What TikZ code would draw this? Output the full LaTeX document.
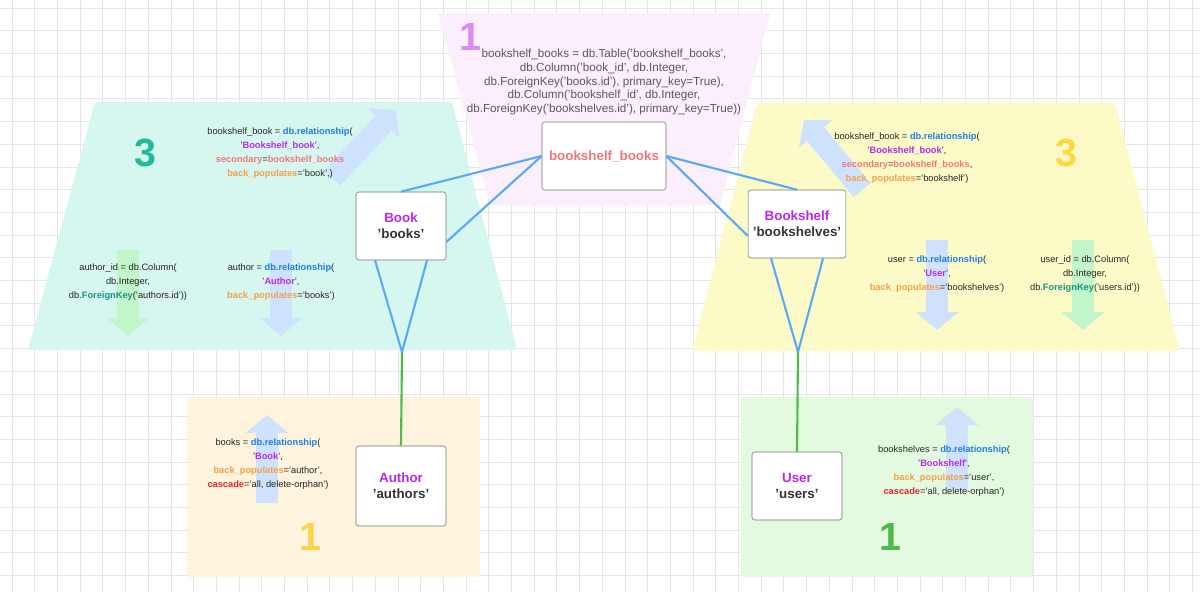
\documentclass[tikz,border=0pt]{standalone}
\usepackage{fontspec}
\setmainfont{Liberation Sans}
\usetikzlibrary{arrows.meta}
\definecolor{kwblue}{HTML}{1E7FE6}
\definecolor{clspurple}{HTML}{B928F0}
\definecolor{secsalmon}{HTML}{F2777A}
\definecolor{bporange}{HTML}{F5A04A}
\definecolor{casred}{HTML}{E8282B}
\definecolor{fkgreen}{HTML}{14967F}
\definecolor{linkblue}{HTML}{5AA9F8}
\definecolor{linkgreen}{HTML}{4CBB4A}
\definecolor{arrblue}{HTML}{CFE2FD}
\definecolor{arrgreen}{HTML}{C2F5C9}
\newcommand{\kw}[1]{\textcolor{kwblue}{\textbf{#1}}}
\newcommand{\cls}[1]{\textcolor{clspurple}{\textbf{#1}}}
\newcommand{\secw}[1]{\textcolor{secsalmon}{\textbf{#1}}}
\newcommand{\bp}{\textcolor{bporange}{\textbf{back\_populates}}}
\newcommand{\cas}{\textcolor{casred}{\textbf{cascade}}}
\newcommand{\fk}{\textcolor{fkgreen}{\textbf{ForeignKey}}}

\begin{document}
\begin{tikzpicture}[x=0.025cm, y=-0.025cm,
	code/.style={align=center, font=\fontsize{6.6}{10}\selectfont, text=black!85},
	model/.style={draw=black!55, fill=white, rounded corners=2pt, align=center, font=\fontsize{9.5}{11.5}\selectfont\bfseries, text=black!80},
	big/.style={font=\fontsize{28}{28}\selectfont\bfseries},
	fat/.style={line width=0.55cm, -{Triangle[width=1.05cm,length=0.45cm]}},
	link/.style={draw=linkblue, line width=1.5pt},
	own/.style={draw=linkgreen, line width=1.5pt}]
	\useasboundingbox (0,0) rectangle (1200,593);
	\fill[white] (0,0) rectangle (1200,593);
	% grid
	\foreach \i in {0,...,53} \draw[black!10, line width=0.5pt] (12+22.7*\i,0) -- (12+22.7*\i,593);
	\foreach \j in {0,...,26} \draw[black!10, line width=0.5pt] (0,8+22.7*\j) -- (1200,8+22.7*\j);
	% regions
	\fill[color={rgb,255:red,251;green,238;blue,253}] (438,13) -- (770,13) -- (720,205) -- (490,205) -- cycle;
	\fill[color={rgb,255:red,213;green,247;blue,240}, rounded corners=2pt] (95,102) -- (452,102) -- (517,350) -- (28,350) -- cycle;
	\fill[color={rgb,255:red,252;green,251;blue,200}, rounded corners=2pt] (757,103) -- (1115,103) -- (1180,351) -- (692,351) -- cycle;
	\fill[color={rgb,255:red,254;green,243;blue,220}, rounded corners=2pt] (187,397) rectangle (480,577);
	\fill[color={rgb,255:red,227;green,249;blue,224}, rounded corners=2pt] (741,397) rectangle (1033,577);
	% big arrows
	\draw[fat, arrblue] (332,178) -- (396,110);
	\draw[fat, arrgreen] (128,250) -- (128,336);
	\draw[fat, arrblue] (281,250) -- (281,336);
	\draw[fat, arrblue] (862,190) -- (804,120);
	\draw[fat, arrblue] (937,240) -- (937,330);
	\draw[fat, arrgreen] (1083,240) -- (1083,330);
	\draw[fat, arrblue] (267,503) -- (267,415);
	\draw[fat, arrblue] (957,490) -- (957,407);
	% numbers
	\node[big, text={rgb,255:red,221;green,139;blue,243}] (n1) at (470,37) {1};
	\node[big, text={rgb,255:red,29;green,187;blue,154}] (n3l) at (145,153) {3};
	\node[big, text={rgb,255:red,255;green,216;blue,60}] (n3r) at (1066,153) {3};
	\node[big, text={rgb,255:red,255;green,210;blue,77}] (n1l) at (310,537) {1};
	\node[big, text=linkgreen] (n1r) at (890,537) {1};
	% code
	\node[code, font=\fontsize{8.3}{9.7}\selectfont, text=black!65] (tbl) at (604,82) {bookshelf\_books = db.Table('bookshelf\_books',\\db.Column('book\_id', db.Integer,\\db.ForeignKey('books.id'), primary\_key=True),\\db.Column('bookshelf\_id', db.Integer,\\db.ForeignKey('bookshelves.id'), primary\_key=True))};
	\node[code] (bkrel) at (280,153) {bookshelf\_book = \kw{db.relationship}(\\'\cls{Bookshelf\_book}',\\\secw{secondary}=\secw{bookshelf\_books}\\\bp='book',)};
	\node[code] (aid) at (128,282) {author\_id = db.Column(\\db.Integer,\\db.\fk('authors.id'))};
	\node[code] (arel) at (281,282) {author = \kw{db.relationship}(\\'\cls{Author}',\\\bp='books')};
	\node[code] (shrel) at (907,158) {bookshelf\_book = \kw{db.relationship}(\\'\cls{Bookshelf\_book}',\\\secw{secondary}=\secw{bookshelf\_books},\\\bp='bookshelf')};
	\node[code] (urel) at (937,274) {user = \kw{db.relationship}(\\'\cls{User}',\\\bp='bookshelves')};
	\node[code] (uid) at (1085,274) {user\_id = db.Column(\\db.Integer,\\db.\fk('users.id'))};
	\node[code] (bsrel) at (268,464) {books = \kw{db.relationship}(\\'\cls{Book}',\\\bp='author',\\\cas='all, delete-orphan')};
	\node[code] (shsrel) at (944,471) {bookshelves = \kw{db.relationship}(\\'\cls{Bookshelf}',\\\bp='user',\\\cas='all, delete-orphan')};
	% models
	\node[model, minimum width=3.1cm, minimum height=1.7cm, text=secsalmon] (bsb) at (604,156) {bookshelf\_books};
	\node[model, minimum width=2.25cm, minimum height=1.7cm] (book) at (401,226) {\textcolor{clspurple}{Book}\\'books'};
	\node[model, minimum width=2.25cm, minimum height=1.7cm] (shelf) at (797,224) {\textcolor{clspurple}{Bookshelf}\\'bookshelves'};
	\node[model, minimum width=2.25cm, minimum height=2cm] (author) at (401,486) {\textcolor{clspurple}{Author}\\'authors'};
	\node[model, minimum width=2.25cm, minimum height=1.7cm] (user) at (797,486) {\textcolor{clspurple}{User}\\'users'};
	% links
	\coordinate (bkfork) at (402,352);
	\coordinate (shfork) at (798,352);
	\draw[link] (bsb.west) -- (book.north);
	\draw[link] (bsb.west) -- ([yshift=-0.4cm]book.east);
	\draw[link] (bsb.east) -- (shelf.north);
	\draw[link] (bsb.east) -- ([yshift=-0.3cm]shelf.west);
	\draw[link] ([xshift=-0.65cm]book.south) -- (bkfork) -- ([xshift=0.65cm]book.south);
	\draw[link] ([xshift=-0.65cm]shelf.south) -- (shfork) -- ([xshift=0.65cm]shelf.south);
	\draw[own] (bkfork) -- (author.north);
	\draw[own] (shfork) -- (user.north);
\end{tikzpicture}
\end{document}
